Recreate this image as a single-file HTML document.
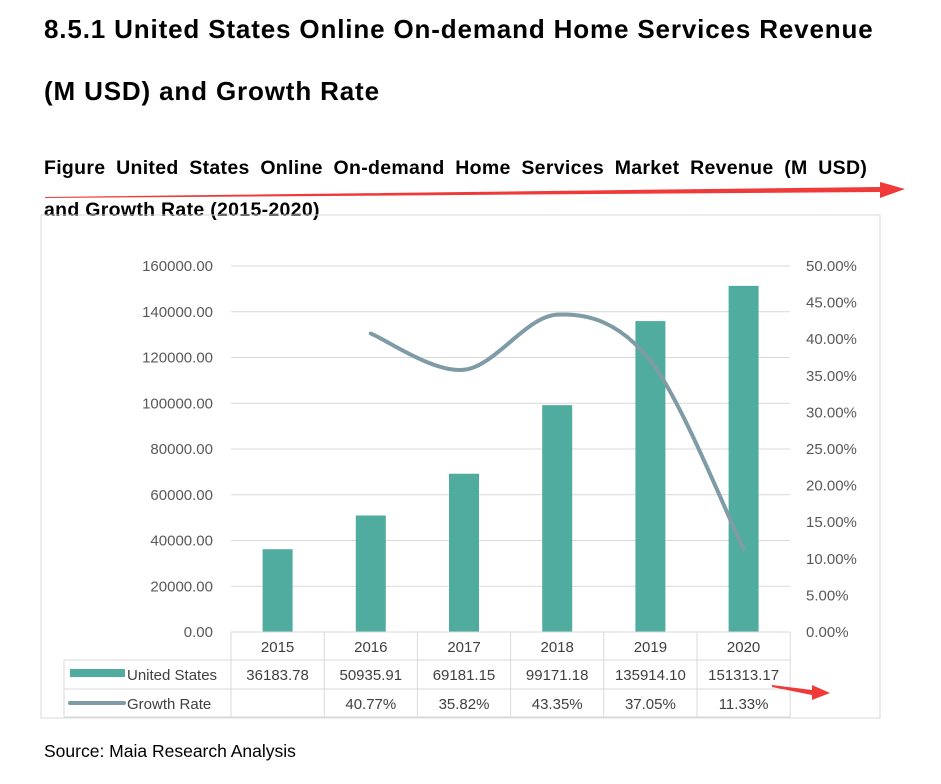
<!DOCTYPE html>
<html><head><meta charset="utf-8"><style>
body{margin:0;width:941px;height:784px;background:#fff;font-family:"Liberation Sans",sans-serif;position:relative;overflow:hidden}
.t{position:absolute;left:44px;font-weight:bold;color:#000;white-space:nowrap}
</style></head><body>
<div class="t" style="top:14px;font-size:26px;letter-spacing:0.85px">8.5.1 United States Online On-demand Home Services Revenue</div>
<div class="t" style="top:76px;font-size:26px;letter-spacing:0.85px">(M USD) and Growth Rate</div>
<div class="t" style="top:157px;font-size:19.5px;letter-spacing:0.3px;word-spacing:5px">Figure United States Online On-demand Home Services Market Revenue (M USD)</div>
<div class="t" style="top:199px;font-size:19.5px;letter-spacing:0.3px">and Growth Rate (2015-2020)</div>
<svg id="c" width="941" height="784" style="position:absolute;left:0;top:0"></svg>
<div class="t" style="top:741px;font-size:17.5px;font-weight:normal">Source: Maia Research Analysis</div>
<script>
const years=["2015","2016","2017","2018","2019","2020"];
const revenue=[36183.78,50935.91,69181.15,99171.18,135914.10,151313.17];
const revenueLabels=["36183.78","50935.91","69181.15","99171.18","135914.10","151313.17"];
const growth=[null,40.77,35.82,43.35,37.05,11.33];
const growthLabels=["","40.77%","35.82%","43.35%","37.05%","11.33%"];
const leftTicks=[0,20000,40000,60000,80000,100000,120000,140000,160000];
const rightTicks=[0,5,10,15,20,25,30,35,40,45,50];
const svg=document.getElementById('c');const NS='http://www.w3.org/2000/svg';
function mk(t,a,p){const e=document.createElementNS(NS,t);for(const k in a)e.setAttribute(k,a[k]);(p||svg).appendChild(e);return e;}
const y0=632,yTop=266,x0=231,colW=93.2;
const yL=v=>y0-(v/160000)*(y0-yTop);
const yR=v=>y0-(v/50)*(y0-yTop);
const xC=i=>x0+colW*(i+0.5);
const frame=mk('rect',{x:41,y:215,width:839,height:503,fill:'none',stroke:'#d9d9d9'});


leftTicks.forEach(v=>{const g=mk('line',{x1:x0,x2:x0+colW*6,y1:yL(v),y2:yL(v),stroke:'#d9d9d9'});


const t=mk('text',{x:213,y:yL(v)+5,'text-anchor':'end','font-size':15,fill:'#595959'});t.textContent=v.toFixed(2);

});
rightTicks.forEach(v=>{const t=mk('text',{x:806,y:yR(v)+5,'font-size':15,fill:'#595959'});t.textContent=v.toFixed(2)+'%';

});
revenue.forEach((v,i)=>{const b=mk('rect',{x:xC(i)-15,y:yL(v),width:30,height:y0-yL(v),fill:'#4fac9f'});

});
const pts=[];growth.forEach((v,i)=>{if(v!=null)pts.push([xC(i),yR(v)]);});
let d='M'+pts[0][0]+','+pts[0][1];
for(let i=0;i<pts.length-1;i++){const p0=pts[i-1]||pts[i],p1=pts[i],p2=pts[i+1],p3=pts[i+2]||p2;
const c1=[p1[0]+(p2[0]-p0[0])/6,p1[1]+(p2[1]-p0[1])/6],c2=[p2[0]-(p3[0]-p1[0])/6,p2[1]-(p3[1]-p1[1])/6];
d+=` C${c1[0]},${c1[1]} ${c2[0]},${c2[1]} ${p2[0]},${p2[1]}`;}
const ln=mk('path',{d:d,fill:'none',stroke:'#7f9ba6','stroke-width':4,'stroke-linecap':'round'});


const tl=64,tr=x0+colW*6;
mk('line',{x1:x0,x2:tr,y1:632,y2:632,stroke:'#d9d9d9'});
mk('line',{x1:tl,x2:tr,y1:660,y2:660,stroke:'#d9d9d9'});
mk('line',{x1:tl,x2:tr,y1:689,y2:689,stroke:'#d9d9d9'});
mk('line',{x1:tl,x2:tr,y1:717,y2:717,stroke:'#d9d9d9'});
mk('line',{x1:tl,x2:tl,y1:660,y2:717,stroke:'#d9d9d9'});
for(let i=0;i<=6;i++)mk('line',{x1:x0+colW*i,x2:x0+colW*i,y1:632,y2:717,stroke:'#d9d9d9'});
years.forEach((y,i)=>{const t=mk('text',{x:xC(i),y:652,'text-anchor':'middle','font-size':15,fill:'#404040'});t.textContent=y;


const a=mk('text',{x:xC(i),y:680,'text-anchor':'middle','font-size':15,fill:'#404040'});a.textContent=revenueLabels[i];


const b=mk('text',{x:xC(i),y:709,'text-anchor':'middle','font-size':15,fill:'#404040'});b.textContent=growthLabels[i];

});
mk('rect',{x:70,y:669,width:55,height:8,fill:'#4fac9f'});
const l1=mk('text',{x:127,y:680,'font-size':15,fill:'#404040'});l1.textContent='United States';


mk('line',{x1:70,x2:124,y1:703,y2:703,stroke:'#7f9ba6','stroke-width':4,'stroke-linecap':'round'});
const l2=mk('text',{x:127,y:709,'font-size':15,fill:'#404040'});l2.textContent='Growth Rate';


const a1=mk('polygon',{points:'45,197 880,187 880,182 905,189 880,198 880,192 45,198',fill:'#f03a3a'});


const a2=mk('polygon',{points:'772,685 812,690 812,685 830,693 812,700 812,695 772,687',fill:'#f03a3a'});


</script>
</body></html>
